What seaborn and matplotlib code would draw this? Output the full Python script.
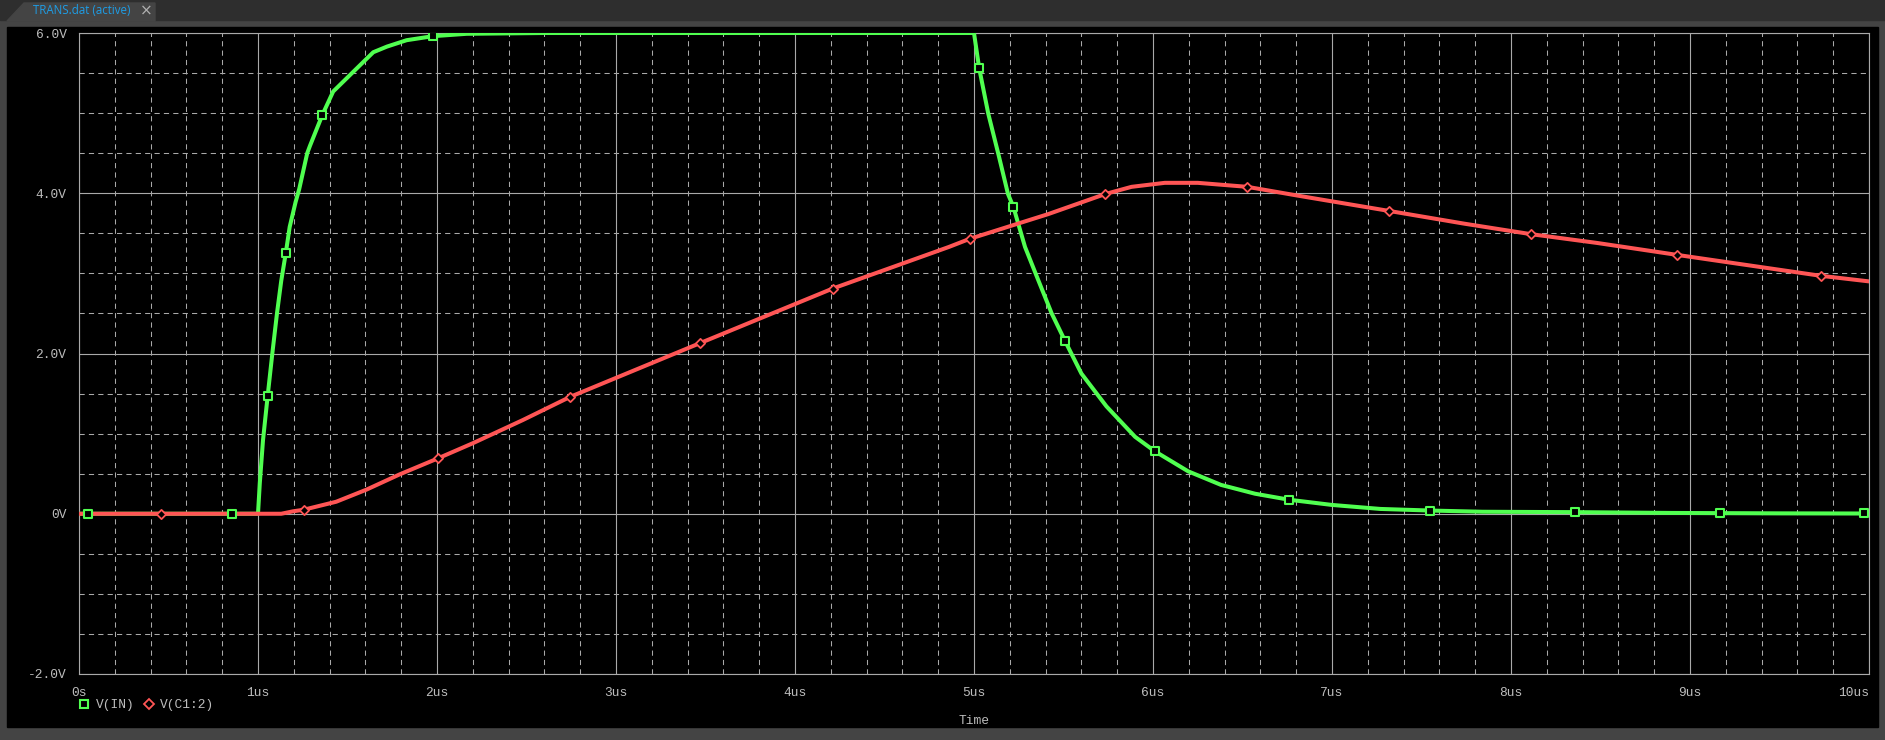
import numpy as np
import pandas as pd
import seaborn as sns
import matplotlib.pyplot as plt
from matplotlib.lines import Line2D
from matplotlib.patches import Rectangle, Polygon

# V(IN) trace (time in us, volts)
t_in = [0, 1.0, 1.01, 1.028, 1.054, 1.08, 1.106, 1.13, 1.155, 1.177, 1.21, 1.23,
        1.275, 1.29, 1.36, 1.42, 1.644, 1.72, 1.83, 1.976, 2.166, 2.6, 5.0,
        5.029, 5.08, 5.136, 5.19, 5.22, 5.285, 5.36, 5.434, 5.51, 5.60, 5.74,
        5.90, 6.01, 6.196, 6.38, 6.57, 6.76, 7.0, 7.27, 7.55, 7.84, 8.36, 8.9,
        9.5, 10.0]
v_in = [0, 0, 0.38, 0.92, 1.47, 2.0, 2.5, 2.91, 3.25, 3.58, 3.89, 4.05,
        4.5, 4.59, 4.98, 5.27, 5.76, 5.83, 5.91, 5.96, 5.99, 6.0, 6.0,
        5.56, 4.99, 4.49, 3.99, 3.83, 3.33, 2.91, 2.50, 2.15, 1.75, 1.34,
        0.96, 0.78, 0.53, 0.36, 0.25, 0.175, 0.11, 0.06, 0.04, 0.025, 0.02, 0.01,
        0.005, 0.003]

# V(C1:2) trace
t_c1 = [0, 1.0, 1.13, 1.195, 1.255, 1.437, 1.605, 1.79, 2.004, 2.20, 2.48,
        2.745, 3.47, 4.21, 4.86, 4.975, 5.23, 5.415, 5.733, 5.88, 6.066, 6.25,
        6.527, 6.81, 7.317, 7.74, 8.11, 8.48, 8.93, 9.73, 10.0]
v_c1 = [0, 0, 0.0, 0.03, 0.05, 0.15, 0.30, 0.49, 0.69, 0.88, 1.17,
        1.46, 2.13, 2.81, 3.33, 3.43, 3.61, 3.74, 3.99, 4.08, 4.13, 4.13,
        4.08, 3.97, 3.78, 3.62, 3.49, 3.38, 3.23, 2.97, 2.90]

# marker symbols as drawn by the probe window
t_in_mk = [0.05, 0.855, 1.054, 1.155, 1.36, 1.976, 5.029, 5.22, 5.51, 6.01,
           6.76, 7.55, 8.36, 9.17, 9.97]
v_in_mk = [0, 0, 1.47, 3.25, 4.98, 5.96, 5.56, 3.83, 2.15, 0.78,
           0.175, 0.04, 0.02, 0.01, 0.005]
t_c1_mk = [0.46, 1.255, 2.004, 2.745, 3.47, 4.21, 4.975, 5.733, 6.527, 7.317,
           8.11, 8.93, 9.73]
v_c1_mk = [0, 0.05, 0.69, 1.46, 2.13, 2.81, 3.43, 3.99, 4.08, 3.78,
           3.49, 3.23, 2.97]

x_ticks = list(range(0, 11))
x_labels = ['0s'] + [f'{i}us' for i in range(1, 11)]
y_ticks = [-2, 0, 2, 4, 6]
y_labels = ['-2.0V', '0V', '2.0V', '4.0V', '6.0V']

GREEN = '#50ff50'
RED = '#ff5555'
GRID = '#a9a9a9'
TXT = '#bdbdbd'

sns.set_style('dark')
plt.rcParams['font.family'] = ['Liberation Mono', 'DejaVu Sans Mono']

W, H = 1885, 740
fig = plt.figure(figsize=(W / 100, H / 100), dpi=100, facecolor='#444444')

# window chrome: title strip, tab, black plot panel (behind the axes)
fig.patches.append(Rectangle((0, 1 - 20 / H), 1, 20 / H, transform=fig.transFigure,
                             color='#2e2e2e', zorder=-3))
fig.patches.append(Polygon([(7 / W, 1 - 21 / H), (24 / W, 1 - 3 / H), (155 / W, 1 - 3 / H),
                            (155 / W, 1 - 21 / H)], closed=True, transform=fig.transFigure,
                           color='#444444', zorder=-2))
fig.patches.append(Rectangle((7 / W, 1 - 727 / H), (1878 - 7) / W, (727 - 27) / H,
                             transform=fig.transFigure, color='black', zorder=-2))
fig.text(33 / W, 1 - 11 / H, 'TRANS.dat (active)', color='#1e9de6', fontsize=8.3,
         family=['Open Sans', 'DejaVu Sans'], va='center', ha='left')
fig.text(146 / W, 1 - 11 / H, '\u00d7', color='#b0b0b0', fontsize=11,
         family=['DejaVu Sans'], va='center', ha='center')

ax = fig.add_axes([79 / W, 1 - 674 / H, (1869 - 79) / W, (674 - 33) / H])
ax.set_facecolor('black')

df_in = pd.DataFrame({'t': t_in, 'v': v_in})
df_c1 = pd.DataFrame({'t': t_c1, 'v': v_c1})
sns.lineplot(data=df_in, x='t', y='v', color=GREEN, lw=2.9, estimator=None,
             sort=False, ax=ax, zorder=3)
sns.lineplot(data=df_c1, x='t', y='v', color=RED, lw=2.9, estimator=None,
             sort=False, ax=ax, zorder=4)
sns.scatterplot(x=t_in_mk, y=v_in_mk, marker='s', s=30, color='black',
                edgecolor=GREEN, linewidth=1.5, ax=ax, zorder=5)
sns.scatterplot(x=t_c1_mk, y=v_c1_mk, marker='D', s=22, color='black',
                edgecolor=RED, linewidth=1.3, ax=ax, zorder=5)

ax.set_xlim(0, 10)
ax.set_ylim(-2, 6)
ax.set_xticks(x_ticks)
ax.set_xticklabels(x_labels)
ax.get_xticklabels()[-1].set_ha('right')
ax.set_yticks(y_ticks)
ax.set_yticklabels(y_labels)
ax.set_xticks(np.arange(0, 10.01, 0.2), minor=True)
ax.set_yticks(np.arange(-2, 6.01, 0.5), minor=True)
ax.tick_params(which='major', direction='out', length=4, width=0.8, color=GRID,
               labelcolor=TXT, labelsize=9.3, pad=5)
ax.tick_params(which='minor', length=0)
ax.set_axisbelow(True)
ax.grid(which='minor', color=GRID, lw=0.75, ls=(0, (5, 4)))
ax.grid(which='major', color=GRID, lw=0.8, ls='-')
for sp in ax.spines.values():
    sp.set_color(GRID)
    sp.set_linewidth(0.8)

ax.set_xlabel('Time', color=TXT, fontsize=9.3, labelpad=12)
ax.set_ylabel('')

handles = [
    Line2D([], [], ls='none', marker='s', mfc='black', mec=GREEN, ms=6, mew=1.5, label='V(IN)'),
    Line2D([], [], ls='none', marker='D', mfc='black', mec=RED, ms=5, mew=1.3, label='V(C1:2)'),
]
ax.legend(handles=handles, loc='center left', bbox_to_anchor=(79 / W, 1 - 705 / H),
          bbox_transform=fig.transFigure, ncol=2, frameon=False, handlelength=0.8,
          handletextpad=0.5, columnspacing=0.7, borderpad=0, borderaxespad=0,
          labelcolor=TXT, fontsize=9.3)

fig.savefig('out.png', dpi=100, facecolor=fig.get_facecolor())
